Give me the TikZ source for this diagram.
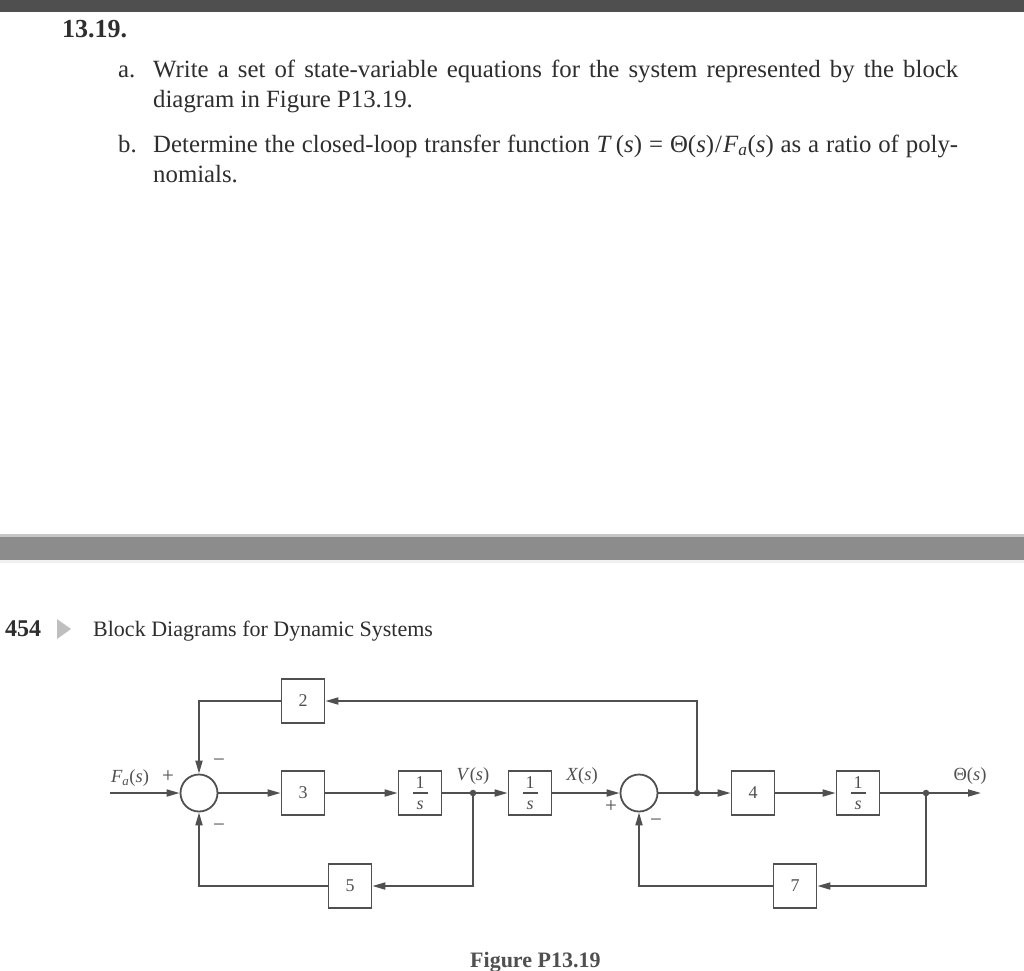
\documentclass[tikz,border=0pt]{standalone}
\usepackage{fontspec}
\setmainfont{Liberation Serif}
\usetikzlibrary{arrows.meta}
\definecolor{ln}{HTML}{505050}
\definecolor{tx}{HTML}{2E2E2E}
\definecolor{topbar}{HTML}{4F4F4F}
\definecolor{midbar}{HTML}{8C8C8C}
\newcommand{\fr}{\vbox{\hbox to 15pt{\hss 1\hss}\kern 4pt\hrule height 1.3pt\kern 7.5pt\hbox to 15pt{\hss\itshape s\hss}}}
\begin{document}
\begin{tikzpicture}[x=1pt,y=-1pt,
  blk/.style={draw=ln, line width=1.8pt, minimum width=43pt, minimum height=44pt, inner sep=0pt, font=\fontsize{18}{18}\selectfont, text=ln},
  fblk/.style={blk, font=\fontsize{18}{18}\selectfont},
  sumj/.style={draw=ln, line width=1.8pt, circle, minimum size=37pt, inner sep=0pt},
  dotn/.style={circle, fill=ln, minimum size=6.5pt, inner sep=0pt},
  wire/.style={draw=ln, line width=1.8pt},
  arr/.style={wire, -{Triangle[length=13pt,width=7pt]}},
  lbl/.style={text=ln, font=\fontsize{18.5}{18.5}\selectfont, inner sep=0pt},
  sgn/.style={text=ln, font=\fontsize{21}{21}\selectfont, inner sep=0pt},
  para/.style={text=tx, font=\fontsize{24.8}{30}\selectfont, inner sep=0pt, anchor=base west},
]
\useasboundingbox (0,0) rectangle (1024,970);
\fill[white] (0,0) rectangle (1024,970);
% bars
\fill[topbar] (0,0) rectangle (1024,12);
\fill[black!22] (0,534) rectangle (1024,537);
\fill[midbar] (0,537) rectangle (1024,560);
\fill[black!6] (0,560) rectangle (1024,563);

% question text
\node[para, font=\bfseries\fontsize{26}{30}\selectfont] (num) at (62,37) {13.19.};
\node[para] (la) at (118,77) {a.};
\node[para] (l1) at (153,77) {\makebox[805pt][s]{Write a set of state-variable equations for the system represented by the block}};
\node[para] (l2) at (153,107) {diagram in Figure P13.19.};
\node[para] (lb) at (118,152) {b.};
\node[para] (l3) at (153,152) {\makebox[805pt][s]{Determine the closed-loop transfer function \textit{T}\,(\textit{s})\hspace{7pt}=\hspace{7pt}Θ(\textit{s})\hspace{1pt}/\hspace{1pt}\textit{F}\textsubscript{\textit{a}}(\textit{s}) as a ratio of poly-}};
\node[para] (l4) at (153,182) {nomials.};

% page header
\node[para, font=\bfseries\fontsize{24}{24}\selectfont] (pg) at (5,636) {454};
\fill[black!25] (57,619) -- (71,629) -- (57,639) -- cycle;
\node[para, font=\fontsize{22}{22}\selectfont] (hd) at (93,636) {Block Diagrams for Dynamic Systems};

% diagram
\node[sumj] (s1) at (199,793) {};
\node[sumj] (s2) at (639,793) {};
\node[blk] (b2) at (303,701) {2};
\node[blk] (b3) at (303,793) {3};
\node[fblk] (i1) at (420,793) {\fr};
\node[fblk] (i2) at (530,793) {\fr};
\node[blk] (b4) at (753,793) {4};
\node[fblk] (i3) at (858,793) {\fr};
\node[blk] (b5) at (350,886) {5};
\node[blk] (b7) at (795,886) {7};
\node[dotn] (dv) at (473,793) {};
\node[dotn] (dx) at (697,793) {};
\node[dotn] (dt) at (926,793) {};
\coordinate (in) at (110,793);
\coordinate (out) at (981,793);

\draw[arr] (in) -- (s1.west);
\draw[arr] (s1.east) -- (b3.west);
\draw[arr] (b3.east) -- (i1.west);
\draw[wire] (i1.east) -- (dv.center);
\draw[arr] (dv.center) -- (i2.west);
\draw[arr] (i2.east) -- (s2.west);
\draw[wire] (s2.east) -- (dx.center);
\draw[arr] (dx.center) -- (b4.west);
\draw[arr] (b4.east) -- (i3.west);
\draw[wire] (i3.east) -- (dt.center);
\draw[arr] (dt.center) -- (out);
\draw[arr] (dt.center) |- (b7.east);
\draw[arr] (b7.west) -| (s2.south);
\draw[arr] (dx.center) |- (b2.east);
\draw[arr] (b2.west) -| (s1.north);
\draw[arr] (dv.center) |- (b5.east);
\draw[arr] (b5.west) -| (s1.south);

% labels
\node[lbl] (fa) at (130,778) {\textit{F}\textsubscript{\textit{a}}(\textit{s})};
\node[sgn] (p1) at (168,777) {+};
\node[sgn] (m1) at (219,763) {−};
\node[sgn] (m2) at (219,828) {−};
\node[lbl] (vs) at (473,776) {\textit{V}(\textit{s})};
\node[lbl] (xs) at (582,776) {\textit{X}(\textit{s})};
\node[sgn] (p2) at (611,807) {+};
\node[sgn] (m3) at (656,823) {−};
\node[lbl] (ts) at (970,776) {Θ(\textit{s})};

\node[para, font=\bfseries\fontsize{22}{22}\selectfont, text=ln] (cap) at (470,967) {Figure P13.19};
\end{tikzpicture}
\end{document}
